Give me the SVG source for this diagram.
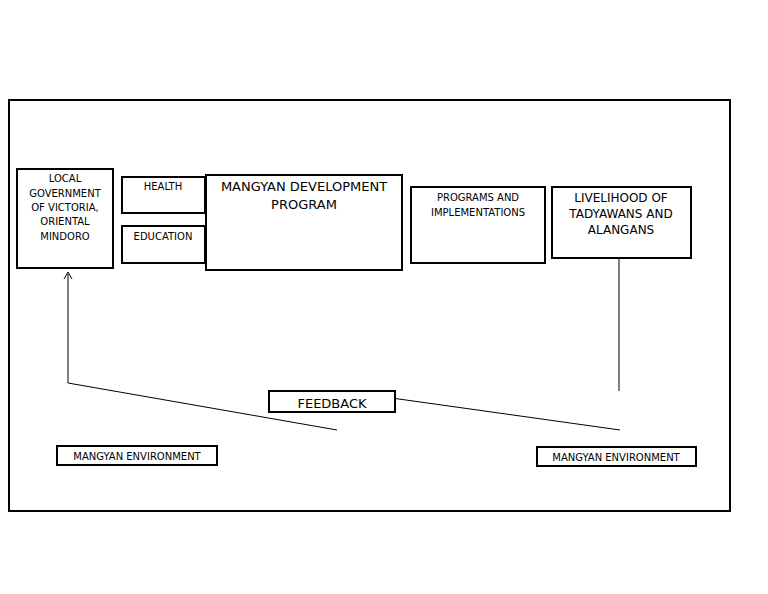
<svg xmlns="http://www.w3.org/2000/svg" width="768" height="594" viewBox="0 0 768 594">
<style>
.b{fill:#fff;stroke:#000;stroke-width:2}
text{font-family:"DejaVu Sans",sans-serif;fill:#000;text-anchor:middle}
.s{font-size:10px}.m{font-size:12px}.l{font-size:13px}
.c{fill:none;stroke:#000;stroke-width:1}
</style>
<rect width="768" height="594" fill="#fff"/>
<rect x="9" y="100" width="721" height="411" class="b"/>
<g id="connectors">
<line x1="68" y1="274" x2="68" y2="383" class="c" stroke="#999"/>
<path d="M64 279 L68 272 L72 279" class="c"/>
<line x1="68" y1="383" x2="337" y2="430" class="c"/>
<line x1="356" y1="393" x2="620" y2="430" class="c"/>
<line x1="619" y1="258" x2="619" y2="391" class="c"/>
</g>
<g id="local"><rect x="17" y="169" width="96" height="99" class="b"/>
<text class="s" x="65" y="182">LOCAL</text><text class="s" x="65" y="197">GOVERNMENT</text><text class="s" x="65" y="211">OF VICTORIA,</text><text class="s" x="65" y="225">ORIENTAL</text><text class="s" x="65" y="240">MINDORO</text></g>
<g id="health"><rect x="122" y="177" width="83" height="36" class="b"/><text class="s" x="163" y="190">HEALTH</text></g>
<g id="education"><rect x="122" y="226" width="83" height="37" class="b"/><text class="s" x="163" y="240">EDUCATION</text></g>
<g id="mdp"><rect x="206" y="175" width="196" height="95" class="b"/><text class="l" x="304" y="191">MANGYAN DEVELOPMENT</text><text class="l" x="304" y="209">PROGRAM</text></g>
<g id="programs"><rect x="411" y="187" width="134" height="76" class="b"/><text class="s" x="478" y="201">PROGRAMS AND</text><text class="s" x="478" y="216">IMPLEMENTATIONS</text></g>
<g id="livelihood"><rect x="552" y="187" width="139" height="71" class="b"/><text class="m" x="621" y="202">LIVELIHOOD OF</text><text class="m" x="621" y="218">TADYAWANS AND</text><text class="m" x="621" y="234">ALANGANS</text></g>
<g id="feedback"><rect x="269" y="391" width="126" height="21" class="b"/><text class="l" x="332" y="408">FEEDBACK</text></g>
<g id="env1"><rect x="57" y="446" width="160" height="19" class="b"/><text class="s" x="137" y="460">MANGYAN ENVIRONMENT</text></g>
<g id="env2"><rect x="537" y="447" width="159" height="19" class="b"/><text class="s" x="616" y="461">MANGYAN ENVIRONMENT</text></g>
</svg>
